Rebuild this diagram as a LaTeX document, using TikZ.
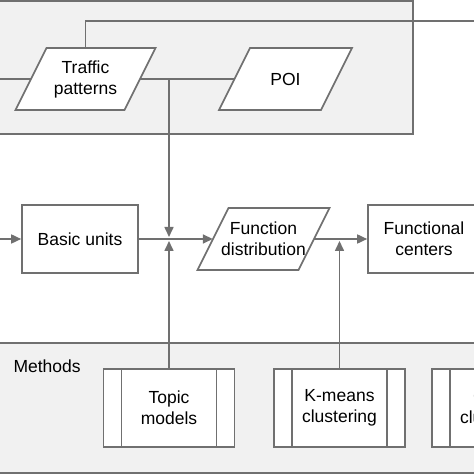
\documentclass[tikz,border=0pt]{standalone}
\usepackage{fontspec}
\setmainfont{Liberation Sans}
\usetikzlibrary{arrows.meta}
\definecolor{linegray}{RGB}{112,112,112}
\definecolor{panelgray}{RGB}{241,241,241}
\tikzset{
 conn/.style={draw=linegray,line width=1.6pt},
 arr/.style={conn,-{Triangle[length=10pt,width=9pt]}},
 panel/.style={draw=linegray,fill=panelgray,line width=1.6pt},
 datashape/.style={draw=linegray,fill=white,line width=1.6pt,line join=miter},
 datatext/.style={minimum height=62pt,align=center,inner sep=2pt},
 unitbox/.style={draw=linegray,fill=white,line width=1.6pt,minimum height=68pt,align=center},
 procbox/.style={draw=linegray,fill=white,line width=1.6pt,minimum width=131pt,minimum height=78pt,align=center,
  path picture={\draw[linegray,line width=1.6pt] ([xshift=18pt]path picture bounding box.north west)--([xshift=18pt]path picture bounding box.south west)
   ([xshift=-18pt]path picture bounding box.north east)--([xshift=-18pt]path picture bounding box.south east);}}
}
\newcommand{\datanode}[4]{%
 \draw[datashape,shift={(#2)}] (-#3/2+15.5,31) -- (#3/2+15.5,31) -- (#3/2-15.5,-31) -- (-#3/2-15.5,-31) -- cycle;
 \node[datatext,minimum width=#3pt] (#1) at (#2) {#4};
}
\begin{document}
\begin{tikzpicture}[font=\fontsize{17.5}{21}\selectfont,x=1pt,y=1pt]
\useasboundingbox (0,0) rectangle (474,474);
\clip (0,0) rectangle (474,474);
\fill[white] (0,0) rectangle (474,474);
\draw[panel] (-10,340) rectangle (413,473);
\draw[panel] (-10,1) rectangle (484,131);
\node[anchor=west] (methods) at (10,108) {Methods};
\datanode{traffic}{85.5,395}{109}{Traffic\\patterns}
\datanode{poi}{285.5,395}{102}{POI}
\node[unitbox,minimum width=116pt] (basic) at (80,235) {Basic units};
\datanode{fd}{263.5,235}{101}{Function\\distribution}
\node[unitbox,minimum width=112pt] (fc) at (424,235) {Functional\\centers};
\foreach \x/\nm/\lab in {169/topic/Topic\\models,339.5/kmeans/K-means\\clustering,497.5/graph/Graph\\clustering}{
 \node[procbox] (\nm) at (\x,66) {\lab};
}
\coordinate (in) at (-10,235);
\coordinate (tin) at (-10,395);
\coordinate (out) at (490,453);
\coordinate (mid) at (169,235);
\draw[conn] (traffic.north) |- (out);
\draw[conn] (tin) -- (traffic.west);
\draw[conn] (traffic.east) -- (poi.west);
\draw[arr] (mid |- traffic.east) -- ([yshift=2pt]mid);
\draw[arr] (topic.north) -- ([yshift=-2pt]mid);
\draw[arr] (in) -- (basic.west);
\draw[arr] (basic.east) -- (fd.west);
\draw[arr] (fd.east) -- (fc.west);
\draw[arr] (kmeans.north) -- ([yshift=-2pt]kmeans.north |- fc.west);
\end{tikzpicture}
\end{document}
